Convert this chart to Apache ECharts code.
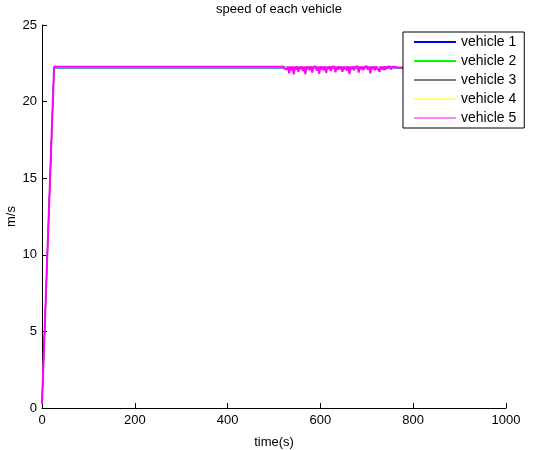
<!DOCTYPE html>
<html>
<head>
<meta charset="utf-8">
<script src="https://cdn.jsdelivr.net/npm/echarts@6/dist/echarts.min.js"></script>
<style>html,body{margin:0;padding:0;background:#fff}#c{width:550px;height:450px}</style>
</head>
<body>
<div id="c"></div>
<script>
const names = ['vehicle 1','vehicle 2','vehicle 3','vehicle 4','vehicle 5'];
const colors = ['#0000ff','#00ff00','#000000','#ffff00','#ff00ff'];
const widths = [1.2, 1.2, 1, 1, 2];
const legendWidths = [2, 2, 1, 1, 1];
const xTicks = [0, 200, 400, 600, 800, 1000];
const yTicks = [0, 5, 10, 15, 20, 25];

// smooth part shared by vehicles 1-4: time (s), speed (m/s)
const timeSmooth = [0, 26, 500, 1000];
const v1Speed = [0.3, 22.2, 22.2, 22.2];
const v2Speed = [0.3, 22.22, 22.22, 22.22];
const v3Speed = [0.3, 22.24, 22.24, 22.24];
const v4Speed = [0.3, 22.24, 22.24, 22.24];

// vehicle 5 (drawn on top): ramp + plateau, then noisy section
const v5TimeStart = [0, 26, 490];
const v5SpeedStart = [0.3, 22.27, 22.27];
const v5NoiseTime = [
  500, 502.5, 505, 507.5, 510, 512.5, 515, 517.5, 520, 522.5, 525, 527.5, 530, 532.5, 535, 537.5, 540, 542.5, 545, 547.5,
  550, 552.5, 555, 557.5, 560, 562.5, 565, 567.5, 570, 572.5, 575, 577.5, 580, 582.5, 585, 587.5, 590, 592.5, 595, 597.5,
  600, 602.5, 605, 607.5, 610, 612.5, 615, 617.5, 620, 622.5, 625, 627.5, 630, 632.5, 635, 637.5, 640, 642.5, 645, 647.5,
  650, 652.5, 655, 657.5, 660, 662.5, 665, 667.5, 670, 672.5, 675, 677.5, 680, 682.5, 685, 687.5, 690, 692.5, 695, 697.5,
  700, 702.5, 705, 707.5, 710, 712.5, 715, 717.5, 720, 722.5, 725, 727.5, 730, 732.5, 735, 737.5, 740, 742.5, 745, 747.5,
  750, 752.5, 755, 757.5, 760, 770, 800, 850, 900, 950, 1000];
const v5NoiseSpeed = [
  22.27, 22.24, 22.28, 22.22, 22.28, 22.2, 22.28, 22.18, 22.29, 22.15, 22.28, 22.1, 22.29, 21.85, 22.28, 22.05, 22.29, 21.78, 22.28, 22.08,
  22.3, 21.95, 22.28, 22.12, 22.29, 22.0, 22.28, 21.8, 22.29, 22.1, 22.28, 22.05, 22.3, 21.9, 22.28, 22.15, 22.29, 22.02, 22.28, 21.82,
  22.3, 22.1, 22.28, 22.05, 22.29, 21.88, 22.28, 22.12, 22.3, 22.0, 22.28, 22.15, 22.29, 21.92, 22.28, 22.08, 22.3, 22.12, 22.28, 21.95,
  22.29, 22.1, 22.28, 22.02, 22.3, 21.8, 22.28, 22.12, 22.29, 22.05, 22.28, 22.15, 22.3, 21.9, 22.28, 22.1, 22.29, 22.05, 22.28, 22.15,
  22.3, 22.08, 22.28, 21.85, 22.29, 22.12, 22.28, 22.05, 22.3, 22.15, 22.28, 21.95, 22.29, 22.1, 22.28, 22.05, 22.3, 22.12, 22.28, 22.15,
  22.29, 22.1, 22.28, 22.15, 22.28, 22.2, 22.25, 22.22, 22.24, 22.24, 22.24];

function pairs(t, v) { return t.map((x, i) => [x, v[i]]); }
const seriesData = [
  pairs(timeSmooth, v1Speed),
  pairs(timeSmooth, v2Speed),
  pairs(timeSmooth, v3Speed),
  pairs(timeSmooth, v4Speed),
  pairs(v5TimeStart, v5SpeedStart).concat(pairs(v5NoiseTime, v5NoiseSpeed))
];

const font = 'Liberation Sans, Arial, Helvetica, sans-serif';
const chart = echarts.init(document.getElementById('c'));
chart.setOption({
  animation: false,
  backgroundColor: '#fff',
  title: {
    text: 'speed of each vehicle', left: 274, top: -2, textAlign: 'center',
    textStyle: { fontFamily: font, fontSize: 13, fontWeight: 'normal', color: '#000' }
  },
  grid: { left: 42, right: 44, top: 25, bottom: 42, containLabel: false, outerBoundsMode: 'none' },
  legend: {
    data: names.map((n, i) => ({ name: n, lineStyle: { width: legendWidths[i], color: colors[i], opacity: 1 } })),
    orient: 'vertical', left: 403, top: 32, z: 20,
    itemWidth: 42, itemHeight: 14, itemGap: 5,
    itemStyle: { opacity: 0 },
    padding: [3, 8, 3, 10],
    backgroundColor: '#fff', borderColor: '#000', borderWidth: 1, borderRadius: 0,
    textStyle: { fontFamily: font, fontSize: 14, color: '#000' }
  },
  xAxis: {
    type: 'value', min: 0, max: 1000, interval: 200,
    name: 'time(s)', nameLocation: 'middle', nameGap: 28, nameMoveOverlap: false,
    nameTextStyle: { fontFamily: font, fontSize: 13, color: '#000' },
    axisLine: { onZero: false, lineStyle: { color: '#000', width: 1 } },
    axisTick: { inside: true, length: 5, lineStyle: { color: '#000' } },
    axisLabel: { fontFamily: font, fontSize: 13, color: '#000', margin: 6,
      formatter: v => xTicks.includes(v) ? String(v) : '' },
    splitLine: { show: false }
  },
  yAxis: {
    type: 'value', min: 0, max: 25, interval: 5,
    name: 'm/s', nameLocation: 'middle', nameGap: 24, nameRotate: 90, nameMoveOverlap: false,
    nameTextStyle: { fontFamily: font, fontSize: 13, color: '#000' },
    axisLine: { show: true, onZero: false, lineStyle: { color: '#000', width: 1 } },
    axisTick: { show: true, inside: true, length: 5, lineStyle: { color: '#000' } },
    axisLabel: { fontFamily: font, fontSize: 13, color: '#000', margin: 5,
      formatter: v => yTicks.includes(v) ? String(v) : '' },
    splitLine: { show: false }
  },
  series: names.map((n, i) => ({
    name: n, type: 'line', data: seriesData[i], symbol: 'none', showSymbol: false,
    color: colors[i], lineStyle: { color: colors[i], width: widths[i] }
  }))
});
</script>
</body>
</html>
